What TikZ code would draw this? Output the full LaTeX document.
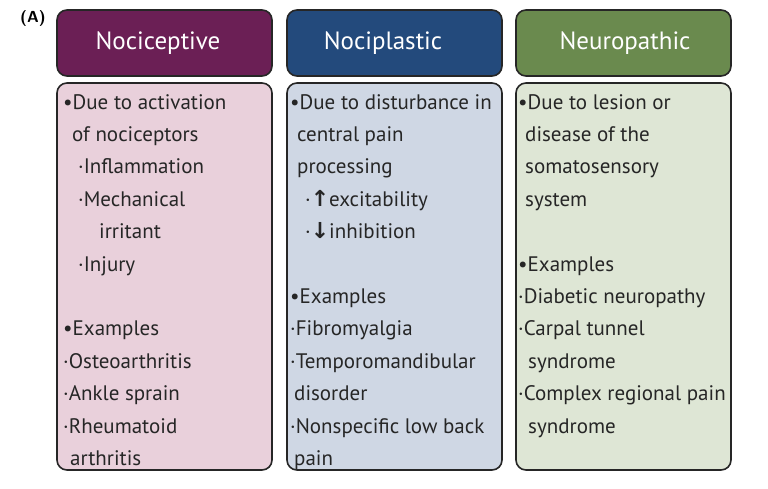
\documentclass[tikz,border=0pt]{standalone}
\usepackage{fontspec}
\setmainfont{PT Sans}
\newfontfamily\djv{DejaVu Sans}
\begin{document}
\begin{tikzpicture}[x=1pt,y=-1pt,
 hdr/.style={draw=black!85,line width=1.6pt,rounded corners=10pt},
 bod/.style={draw=black!85,line width=1.6pt,rounded corners=10pt},
 ttl/.style={text=white,font=\fontsize{25}{28}\selectfont},
 txt/.style={anchor=north west,align=left,inner sep=0pt,text=black!85,font=\fontsize{21}{32.4}\selectfont}]
\useasboundingbox (0,0) rectangle (768,489);
\definecolor{cP}{HTML}{6B1F55}\definecolor{cB}{HTML}{234A7C}\definecolor{cG}{HTML}{6A8A4E}
\definecolor{bP}{HTML}{E9D0DB}\definecolor{bB}{HTML}{CFD7E4}\definecolor{bG}{HTML}{DEE6D5}
\node[anchor=north west,inner sep=0pt,font=\bfseries\fontsize{16}{18}\selectfont\sffamily] (lab) at (20,10) {(A)};
\draw[hdr,fill=cP] (57,10) rectangle (272,76);
\draw[hdr,fill=cB] (287,10) rectangle (502,76);
\draw[hdr,fill=cG] (516,10) rectangle (731,76);
\node[ttl] (t1) at (158,43) {Nociceptive};
\node[ttl] (t2) at (383,43) {Nociplastic};
\node[ttl] (t3) at (625,43) {Neuropathic};
\draw[bod,fill=bP] (57,83) rectangle (272,470);
\draw[bod,fill=bB] (287,83) rectangle (502,470);
\draw[bod,fill=bG] (516,83) rectangle (731,470);
\node[txt] (b1) at (63,94) {•Due to activation\\\hspace*{9pt}of nociceptors\\\hspace*{15pt}·Inflammation\\\hspace*{15pt}·Mechanical\\\hspace*{36pt}irritant\\\hspace*{15pt}·Injury\\[32.4pt]•Examples\\·Osteoarthritis\\·Ankle sprain\\·Rheumatoid\\\hspace*{7pt}arthritis};
\node[txt] (b2) at (290,94) {•Due to disturbance in\\\hspace*{7pt}central pain\\\hspace*{7pt}processing\\\hspace*{15pt}·{\djv\bfseries\fontsize{22}{22}\selectfont ↑}excitability\\\hspace*{15pt}·{\djv\bfseries\fontsize{22}{22}\selectfont ↓}inhibition\\[32.4pt]•Examples\\·Fibromyalgia\\·Temporomandibular\\\hspace*{4pt}disorder\\·Nonspecific low back\\\hspace*{4pt}pain};
\node[txt] (b3) at (518,94) {•Due to lesion or\\\hspace*{7pt}disease of the\\\hspace*{7pt}somatosensory\\\hspace*{7pt}system\\[32.4pt]•Examples\\·Diabetic neuropathy\\·Carpal tunnel\\\hspace*{10pt}syndrome\\·Complex regional pain\\\hspace*{10pt}syndrome};
\end{tikzpicture}
\end{document}
